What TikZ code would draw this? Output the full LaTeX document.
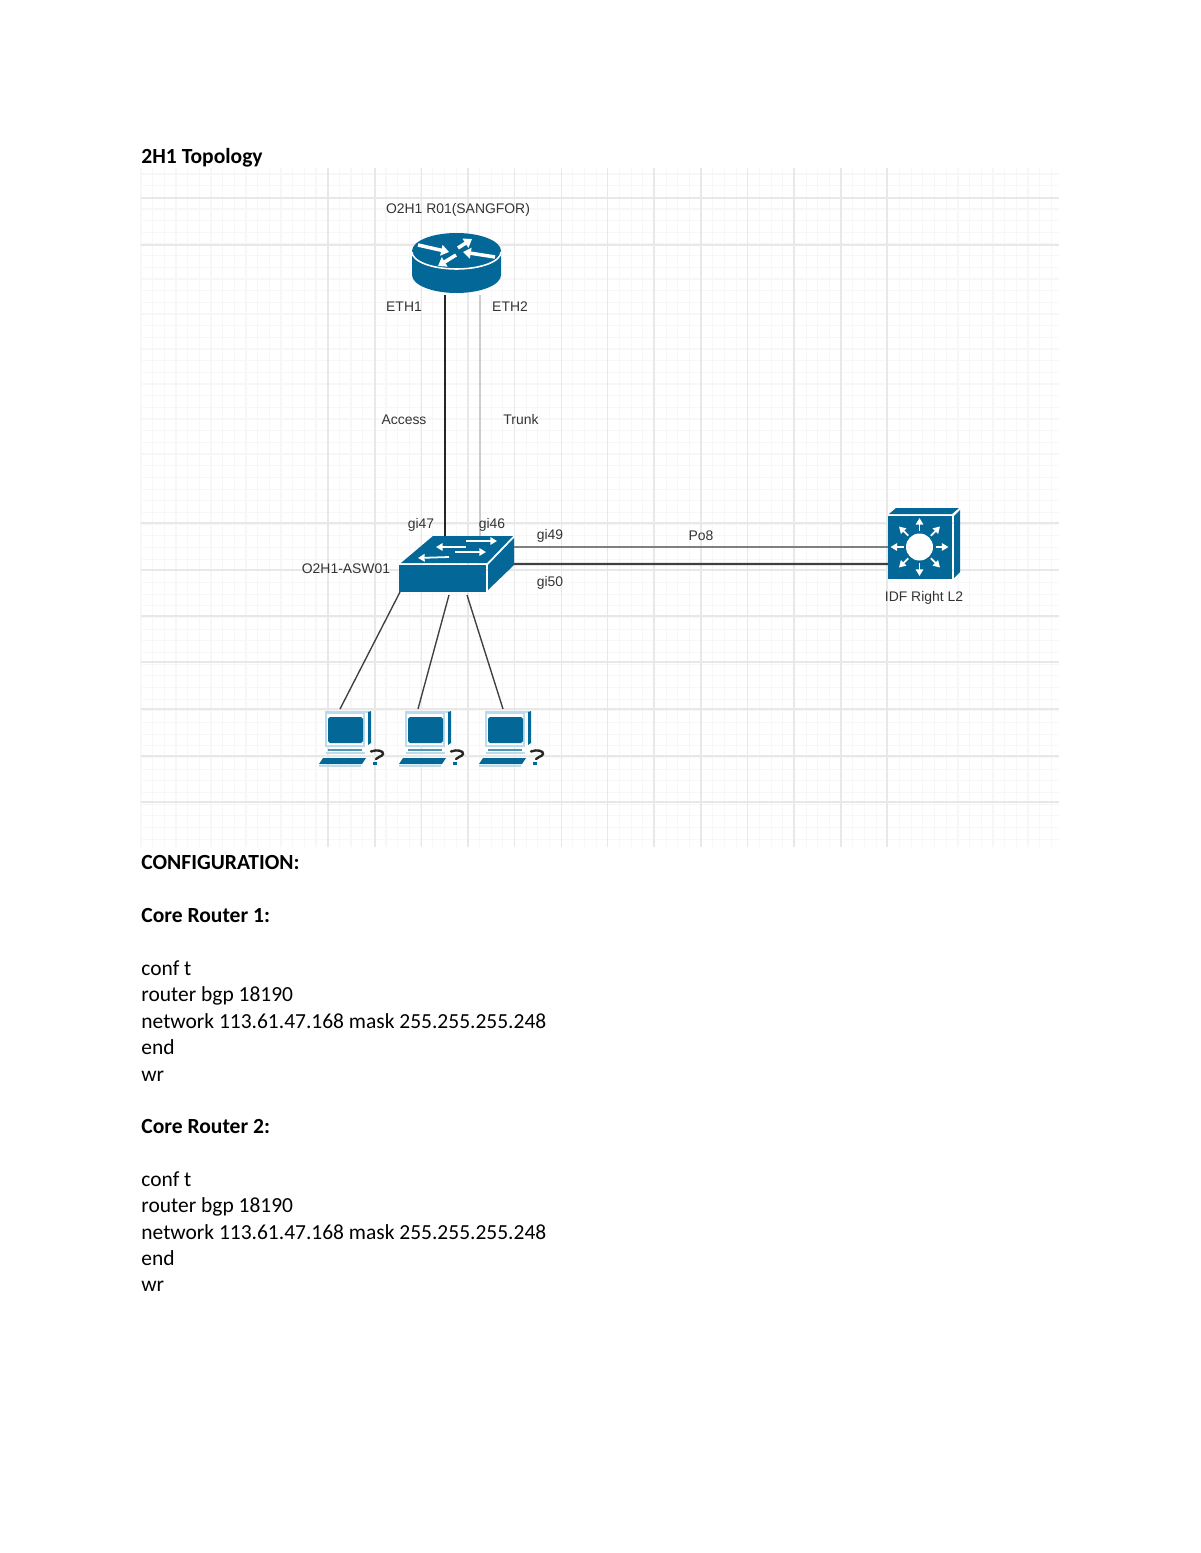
\documentclass[tikz,border=0pt]{standalone}
\usepackage{fontspec}
\setmainfont{Carlito}
\newfontfamily\diagfont{Liberation Sans}
\usetikzlibrary{arrows.meta,calc}
\definecolor{ciscoblue}{HTML}{036897}
\definecolor{lightblue}{HTML}{BBDCEA}
\definecolor{gridmajor}{HTML}{E8E8E8}
\definecolor{gridminor}{HTML}{F7F7F7}
\definecolor{labeltext}{HTML}{333333}
\tikzset{
  doc/.style={anchor=base west,inner sep=0pt,font=\fontsize{10.95}{13}\selectfont,text=black},
  dochead/.style={doc,font=\fontsize{11}{13}\selectfont\bfseries},
  lab/.style={inner sep=0pt,font=\diagfont\fontsize{7.1}{8.5}\selectfont,text=labeltext},
  hold/.style={inner sep=0pt,outer sep=0pt,draw=none},
  wire/.style={line width=1.1pt,draw=black!85},
  wirelight/.style={line width=1.1pt,draw=black!20},
  wiregray/.style={line width=.8pt,draw=black!50},
  wiredark/.style={line width=1.1pt,draw=black!75},
  leg/.style={line width=.7pt,draw=black!75},
  whitearrow/.style={draw=white,line width=1.8pt,-{Triangle[length=4pt,width=5.4pt]}},
  thinarrow/.style={draw=white,line width=.9pt,-{Triangle[length=3.4pt,width=3.8pt]}},
  pcicon/.pic={
    \fill[lightblue] (325,711) rectangle (365,747);
    \fill[white] (327,714) rectangle (363,745);
    \fill[ciscoblue,rounded corners=1pt] (328,717) rectangle (363,743);
    \fill[lightblue] (331,711) rectangle (369,713);
    \fill[ciscoblue] (368,712) -- (371,711) -- (371,743) -- (368,745) -- cycle;
    \fill[ciscoblue!70] (328,749) rectangle (362,751);
    \fill[lightblue] (326,752) rectangle (365,754);
    \fill[ciscoblue] (323,758) -- (366,758) -- (362,764) -- (319,764) -- cycle;
    \fill[lightblue] (319,765) rectangle (361,766.5);
    \draw[line width=1.2pt,black!85,line cap=round] (371,751.5) .. controls (377,749) and (384,751) .. (383,754) .. controls (382,757) and (378,756) .. (376,759);
    \fill[ciscoblue] (373,762) rectangle (377,765);
  }
}
\begin{document}
\begin{tikzpicture}[x=0.51pt,y=-0.51pt]
\useasboundingbox (0,0) rectangle (1200,1553);
% grid
\foreach \i in {0,...,78}{
  \pgfmathsetmacro{\gx}{141+11.67*\i}
  \draw[gridminor,line width=.6pt] (\gx,168) -- (\gx,847);
}
\foreach \i in {0,...,57}{
  \pgfmathsetmacro{\gy}{174+11.67*\i}
  \draw[gridminor,line width=.6pt] (141,\gy) -- (1059,\gy);
}
\foreach \gx in {328,375,421.5,468,514.7,561.5,607.7,654,701,747.7,794,841,887}{
  \draw[gridmajor,line width=.6pt] (\gx,168) -- (\gx,847);
}
\foreach \gy in {198,245,523,570,616,662,709,756,802}{
  \draw[gridmajor,line width=.6pt] (141,\gy) -- (1059,\gy);
}
% holders
\node[hold,minimum width=89*0.51pt,minimum height=62*0.51pt] (router) at (456.5,264) {};
\node[hold,minimum width=115*0.51pt,minimum height=59*0.51pt] (switch) at (456.5,565.5) {};
\node[hold,minimum width=72*0.51pt,minimum height=71*0.51pt] (core) at (924,543.5) {};
\node[hold,minimum width=67*0.51pt,minimum height=56*0.51pt] (pcA) at (352.5,738) {};
\node[hold,minimum width=67*0.51pt,minimum height=56*0.51pt] (pcB) at (432.5,738) {};
\node[hold,minimum width=67*0.51pt,minimum height=56*0.51pt] (pcC) at (512.5,738) {};
% connectors
\draw[wire] ($(router.south)+(-11.5,0)$) -- ($(switch.north)+(-11.5,1)$);
\draw[wirelight] ($(router.south)+(23.5,0)$) -- ($(switch.north)+(23.5,1)$);
\draw[wiregray] ($(switch.east)+(0,-18.5)$) -- ($(core.west)+(0,3.5)$);
\draw[wiredark] ($(switch.east)+(0,-1.5)$) -- ($(core.west)+(0,20.5)$);
\draw[leg] ($(switch.south west)+(1,-3)$) -- ($(pcA.north)+(-12.5,-1)$);
\draw[leg] ($(switch.south)+(-7.5,0)$) -- ($(pcB.north)+(-14.5,-1)$);
\draw[leg] ($(switch.south)+(10.5,0)$) -- ($(pcC.north)+(-9.5,-1)$);
% router icon
\fill[ciscoblue] (412,251) arc[start angle=180,end angle=360,x radius=44.5,y radius=18] -- (501,275) arc[start angle=0,end angle=180,x radius=44.5,y radius=18] -- cycle;
\draw[white,line width=.8pt] (412,252) arc[start angle=180,end angle=0,x radius=44.5,y radius=17];
\draw[whitearrow] (418,245) -- (449,252);
\draw[whitearrow] (458,248) -- (472,239);
\draw[whitearrow] (495,257) -- (463,252);
\draw[whitearrow] (456,255) -- (438,266);
% switch icon
\fill[ciscoblue] (399,565) rectangle (486,592);
\fill[ciscoblue] (401,563) -- (433,536) -- (513,536) -- (487,563) -- cycle;
\fill[ciscoblue] (488,565) -- (514,538) -- (514,565) -- (488,590) -- cycle;
\draw[thinarrow] (466,541) -- (497,541);
\draw[thinarrow] (466,547) -- (436,547);
\draw[thinarrow] (455,552) -- (486,552);
\draw[thinarrow] (449,557) -- (418,558);
% core icon
\fill[ciscoblue] (888,516) rectangle (952,579);
\fill[ciscoblue] (889,514) -- (896,508) -- (959,508) -- (952,514) -- cycle;
\fill[ciscoblue] (954,516) -- (960,510) -- (960,572) -- (954,578) -- cycle;
\fill[white] (919.5,547) circle[radius=13.5];
\foreach \a in {0,45,...,315}{
  \draw[thinarrow] ($(919.5,547)+(\a:16)$) -- ($(919.5,547)+(\a:29)$);
}
% PCs
\pic at (0,0) {pcicon};
\pic at (80,0) {pcicon};
\pic at (160,0) {pcicon};
% diagram labels
\node[lab] (lr) at (458,210) {O2H1 R01(SANGFOR)};
\node[lab] (le1) at (404,307) {ETH1};
\node[lab] (le2) at (510,307) {ETH2};
\node[lab] (la) at (404,420) {Access};
\node[lab] (lt) at (521,420) {Trunk};
\node[lab] (l47) at (421,525) {gi47};
\node[lab] (l46) at (492,525) {gi46};
\node[lab] (l49) at (550,536) {gi49};
\node[lab] (lpo) at (701,536) {Po8};
\node[lab] (l50) at (550,583) {gi50};
\node[lab] (lsw) at (346,569) {O2H1-ASW01};
\node[lab] (lid) at (924,598) {IDF Right L2};
% document text
\node[dochead] (t0) at (141,163.5) {2H1 Topology};
\node[dochead] (t1) at (141,869) {CONFIGURATION:};
\node[dochead] (t2) at (141,922) {Core Router 1:};
\node[doc] (a1) at (141,975) {conf t};
\node[doc] (a2) at (141,1001) {router bgp 18190};
\node[doc] (a3) at (141,1028) {network 113.61.47.168 mask 255.255.255.248};
\node[doc] (a4) at (141,1054) {end};
\node[doc] (a5) at (141,1081) {wr};
\node[dochead] (t3) at (141,1133) {Core Router 2:};
\node[doc] (b1) at (141,1186) {conf t};
\node[doc] (b2) at (141,1212) {router bgp 18190};
\node[doc] (b3) at (141,1239) {network 113.61.47.168 mask 255.255.255.248};
\node[doc] (b4) at (141,1265) {end};
\node[doc] (b5) at (141,1291) {wr};
\end{tikzpicture}
\end{document}
